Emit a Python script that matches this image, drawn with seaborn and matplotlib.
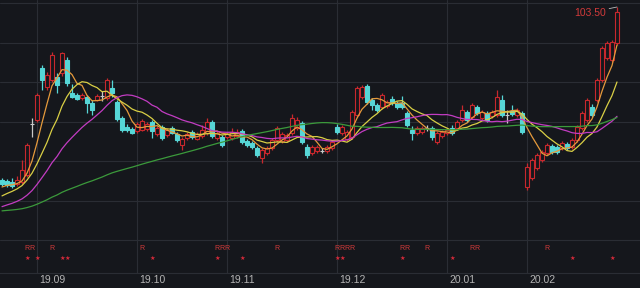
import numpy as np
import pandas as pd
import matplotlib
matplotlib.use("Agg")
import matplotlib.pyplot as plt
import matplotlib.transforms as mtransforms
import seaborn as sns

# ---------------- data ----------------
months = ["19.09", "19.10", "19.11", "19.12", "20.01", "20.02"]
month_start = [7, 27, 45, 67, 89, 105]

opens = [60.25, 60, 59.75, 59.25, 59.75, 61.5, 74.25, 75.25, 88.25, 83.5,
         85.25, 86, 87, 90.25, 82, 81.5, 80.75, 81, 79.5, 80.25,
         81.25, 80.75, 83.25, 79.75, 75.75, 73.5, 73, 72.5, 72.75, 73,
         74.75, 71.75, 73.5, 71.5, 73.25, 71.75, 69, 70.75, 72.25, 70.5,
         71.25, 72, 74.75, 70.75, 71, 71, 70.75, 71.25, 72.5, 70,
         69.5, 68.25, 65.75, 67, 68.25, 70.25, 70, 70.25, 72, 73.25,
         74.5, 68.5, 67, 67.5, 67.5, 67.5, 68.25, 73.5, 72, 70.5,
         71, 76.5, 81, 83.75, 80.25, 79, 78.5, 78.75, 80.5, 79.5,
         79.5, 77, 72.75, 72, 72.25, 73.25, 73.25, 69.75, 71.25, 72,
         73.25, 73.25, 75.25, 77.25, 76, 78.5, 75.75, 77, 76.25, 76.5,
         80.25, 76.5, 77.5, 76.5, 77, 58.5, 60.75, 63.25, 65.25, 67,
         68.75, 68.5, 68.25, 69.25, 68.5, 70.25, 73.25, 75.25, 78.5, 80.25,
         85.25, 90.75, 90.25, 94.5]
highs = [60.75, 60.5, 60.75, 61.25, 65.25, 69.5, 75.75, 82, 89, 87.25,
         92.25, 87, 92.25, 91, 84.25, 82, 82, 81.5, 80.25, 81.75,
         82.5, 85.75, 85.25, 80.25, 76.25, 74.25, 73.5, 74.75, 75.5, 74.75,
         75.25, 73.75, 74, 73.25, 73.75, 72.25, 71, 72.25, 72.75, 72.25,
         74, 75.75, 75.25, 72.5, 71.5, 72.25, 73.25, 73, 73, 70.5,
         70, 68.75, 68.25, 68.75, 70.75, 73.75, 72.25, 72, 76.75, 76,
         75, 69.25, 69, 69, 68.25, 69, 70.25, 74.25, 74, 72.75,
         77.75, 83.75, 84, 84.25, 80.75, 79.5, 82, 80.25, 81.25, 80,
         81.25, 77.5, 73.75, 73.75, 73.75, 74, 73.75, 72.5, 72.75, 73.25,
         74, 75.25, 79, 77.75, 79.5, 79, 77.75, 77.5, 77.75, 82.75,
         81.5, 77.75, 79, 78.25, 77.5, 64.5, 65.75, 67, 67.75, 69.5,
         69.25, 69, 70, 69.75, 70.75, 74, 77.5, 80.75, 79.25, 85.75,
         93.75, 95, 95.25, 103.5]
lows = [58.75, 58.5, 58.25, 58.75, 59.25, 61, 71, 74.75, 82.75, 82.75,
        84.75, 82, 86.25, 83.75, 80.75, 80.25, 80.25, 77, 76.5, 80,
        80, 80.25, 81, 75, 72.25, 72.25, 71.75, 72, 72.5, 72.5,
        70.75, 71.25, 70.25, 71, 71.75, 69.75, 67.75, 70.25, 70.5, 70.25,
        70.75, 71.5, 70.75, 70.25, 68.5, 70.5, 70.25, 70.75, 69.25, 68.5,
        68, 66, 64.5, 66.5, 67.75, 69.75, 69.5, 69.75, 71.5, 72.75,
        69.25, 65.75, 66.5, 67, 67, 67, 67.75, 71.75, 71.5, 70,
        70.5, 76, 80.5, 79.25, 77.75, 77.25, 78, 78.25, 79, 78,
        78, 73.5, 70.25, 71.5, 71.75, 72.5, 70.25, 69.25, 70.75, 71.5,
        71.5, 72.75, 74.75, 74.75, 75.5, 76.5, 75.25, 74.75, 75.75, 76,
        76, 74.5, 76.25, 76, 71.75, 57.75, 60.25, 62.75, 64.75, 66.5,
        66.75, 66.75, 67.75, 67.75, 68, 69.75, 72.75, 74.75, 76, 79.75,
        84.75, 90.25, 89.75, 94]
closes = [59.25, 59, 58.75, 60.25, 62.75, 69, 74.25, 81.5, 85.25, 86.5,
          91.5, 84, 92, 84.5, 81, 80.5, 81.5, 79.5, 77.75, 81.25,
          81.25, 85.25, 82, 75.5, 72.75, 72.75, 72, 74.25, 75, 74.25,
          72.5, 73.25, 70.75, 72.75, 72, 70.25, 70.5, 71.75, 71, 71.75,
          72.75, 74.75, 71.25, 72, 69, 71.75, 72.25, 72.25, 69.75, 69,
          68.5, 66.5, 67.75, 68.25, 70.25, 73.25, 71.75, 71.5, 75.75, 75.25,
          69.75, 66.5, 68.5, 68.5, 67.5, 68.5, 69.75, 72.25, 73.5, 72.25,
          77.25, 83.25, 83.5, 79.75, 79, 77.75, 81.5, 79.75, 79.5, 78.5,
          78.5, 74, 72, 73.25, 73.25, 73.25, 71, 72, 72.25, 72.75,
          72, 74.75, 77.75, 75.25, 79, 77, 77.25, 75.25, 77.25, 81,
          76.5, 76.5, 76.75, 77.75, 72.25, 63.5, 65.25, 66.5, 67.25, 69,
          67.25, 67.25, 69.5, 68.25, 70.25, 73.5, 77, 80.25, 76.5, 85.25,
          93.25, 94.5, 94.75, 102.25]

# closes before the visible window (estimated from the MA levels at the left edge)
warmup_closes = [52.0, 52.5, 52.25, 51.75, 52.0, 52.5, 53.0, 52.75, 52.25, 52.0,
                 51.5, 51.75, 52.25, 52.5, 52.0, 51.75, 52.0, 52.5, 52.75, 53.0,
                 52.5, 52.25, 52.0, 51.75, 51.5, 51.75, 52.0, 52.25, 52.5, 52.0,
                 51.75, 52.0, 52.25, 52.0, 51.5, 51.25, 51.0, 51.25, 51.0, 50.75,
                 50.5, 50.75, 50.25, 50.5, 50.75, 51.0, 50.75, 51.0, 51.5, 52.0,
                 53.0, 53.5, 54.0, 54.5, 55.25, 57.0, 58.0, 58.75, 59.5]

ma_windows = [5, 10, 20, 60]
ma_colors = ["#e59a3c", "#d9cf45", "#c23cc2", "#3b9a3b"]

r_marks = [5, 6, 10, 28, 43, 44, 45, 55, 67, 68, 69, 70, 80, 81, 85, 94, 95, 109]
star_marks = [5, 7, 12, 13, 30, 43, 48, 67, 68, 80, 90, 114, 122]

grid_prices = [104.5, 94.625, 84.75, 74.875, 65.0, 55.125, 45.25]

# ---------------- style ----------------
BG = "#15171c"
GRID = "#2a2d34"
RED = "#c8282d"
CYAN = "#56d6d6"
GREY = "#c8c8c8"

sns.set_theme(style="dark")
plt.rcParams["font.family"] = ["Liberation Sans", "DejaVu Sans"]

fig = plt.figure(figsize=(6.4, 2.88), dpi=100)
fig.patch.set_facecolor(BG)
ax = fig.add_axes([0, 15 / 288, 1, 273 / 288])
ax.set_facecolor(BG)

n = len(closes)
idx = np.arange(n)
o = np.array(opens); h = np.array(highs); l = np.array(lows); c = np.array(closes)

# moving averages
full = pd.Series(list(warmup_closes) + list(closes))
rows = []
for w in ma_windows:
    ma = full.rolling(w, min_periods=1).mean().to_numpy()[len(warmup_closes):]
    rows.append(pd.DataFrame({"idx": idx, "value": ma, "ma": f"MA{w}"}))
ma_df = pd.concat(rows, ignore_index=True)

# candles
cols = np.where(c > o, RED, np.where(c < o, CYAN, GREY))
faces = np.where(c > o, BG, np.where(c < o, CYAN, GREY))
ax.vlines(idx, l, h, colors=cols, linewidth=0.9, zorder=2)
bottoms = np.minimum(o, c)
heights = np.maximum(np.abs(c - o), 0.12)
ax.bar(idx, heights, bottom=bottoms, width=0.72, color=faces, edgecolor=cols,
       linewidth=0.8, zorder=2.5)

sns.lineplot(data=ma_df, x="idx", y="value", hue="ma",
             palette=dict(zip([f"MA{w}" for w in ma_windows], ma_colors)),
             linewidth=0.9, legend=False, ax=ax, zorder=3)

# axes, grid
ax.set_xlim(-0.4, 127.6)
ax.set_ylim(37.0, 105.25)
ax.set_xticks(month_start)
ax.set_yticks(grid_prices)
ax.tick_params(left=False, bottom=False, labelleft=False, labelbottom=False)
ax.grid(True, color=GRID, linewidth=0.8)
ax.set_xlabel(""); ax.set_ylabel("")
for s in ["top", "left", "right"]:
    ax.spines[s].set_visible(False)
ax.spines["bottom"].set_color(GRID)
ax.spines["bottom"].set_linewidth(0.8)

trans = mtransforms.blended_transform_factory(ax.transData, ax.transAxes)
for m, lab in zip(month_start, months):
    ax.text(m + 0.45, -0.026, lab, transform=trans, ha="left", va="center",
            color="#b4b4b4", fontsize=7.5, clip_on=False)

for i in r_marks:
    ax.text(i, 0.088, "R", transform=trans, ha="center", va="center",
            color="#d23a3a", fontsize=5)
for i in star_marks:
    ax.text(i, 0.055, "★", transform=trans, ha="center", va="center",
            color="#d82a3a", fontsize=4.5)

imax = int(np.argmax(h))
ax.annotate(f"{h[imax]:.2f}", xy=(imax, h[imax]), xytext=(-8, -4),
            textcoords="offset points", ha="right", va="center",
            color="#d23a3a", fontsize=7.5,
            arrowprops=dict(arrowstyle="-", color="#bbbbbb", lw=0.6,
                            shrinkA=0, shrinkB=0))

fig.savefig("out.png", dpi=100, facecolor=BG)
